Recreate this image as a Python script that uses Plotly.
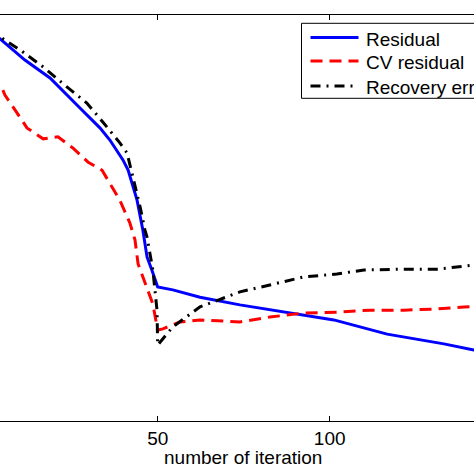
import plotly.graph_objects as go

# Residual (solid blue)
res_x = [1, 4.2, 11.4, 18.7, 27.4, 33.2, 36.1, 39.9, 41.4, 44.0, 45.7, 46.9, 48.3, 50,
         54.4, 62.3, 73.9, 101.2, 116.7, 133.2, 141.9, 150]
res_y = [96.0, 94.1, 88.9, 84.5, 77.1, 72.2, 69.2, 64.3, 61.8, 54.4, 47.0, 40.4, 37.2, 33.0,
         32.3, 30.5, 28.6, 24.9, 21.4, 19.0, 17.5, 16.0]

# CV residual (dashed red)
cv_x = [5, 5.6, 9.1, 12.0, 16.7, 21.0, 25.4, 29.7, 33.8, 36.1, 39.0, 41.9, 43.4, 44.3, 46.9,
        48.6, 50, 51.5, 56.5, 62.3, 73.9, 82.6, 92.5, 102.1, 111.7, 121.6, 131.2, 139.0, 150]
cv_y = [81.5, 80.3, 75.9, 72.2, 69.5, 70.0, 67.2, 63.8, 61.8, 58.6, 54.4, 48.8, 44.6, 38.7, 33.0,
        28.8, 22.4, 22.7, 24.4, 24.9, 24.4, 25.6, 26.6, 26.8, 27.3, 27.3, 27.6, 28.1, 28.5]

# Recovery error (dash-dot black)
rec_x = [1, 4.2, 10.0, 16.7, 23.6, 29.4, 34.1, 39.0, 41.1, 42.8, 44.9, 46.3, 46.9, 48.6, 49.8, 50,
         54.4, 62.3, 73.9, 82.6, 92.5, 102.1, 110.0, 121.6, 131.2, 141.9, 150]
rec_y = [96.5, 94.6, 91.4, 87.2, 82.3, 78.3, 73.6, 68.5, 66.0, 60.1, 52.7, 47.0, 45.3, 37.2, 27.3, 18.7,
         23.2, 28.1, 31.8, 33.5, 35.5, 36.2, 37.2, 37.4, 37.4, 38.4, 38.6]

series_names = ["Residual", "CV residual", "Recovery error"]
series_colors = ["#0000ff", "#ff0000", "#000000"]
series_dash = ["solid", "12px,7px", "10px,6px,2px,6px"]

x_ticks = [50, 100]
x_tick_labels = ["50", "100"]
x_title = "number of iteration"

FONT = "Liberation Sans, Arial, Helvetica, sans-serif"
W, H = 474, 474
T, B = 15, 53
PH = H - T - B


def px_x(p):
    return p / W


def px_y(p):
    return (H - B - p) / PH


fig = go.Figure()
for xs, ys, name, col, dsh in zip([res_x, cv_x, rec_x], [res_y, cv_y, rec_y],
                                  series_names, series_colors, series_dash):
    fig.add_trace(go.Scatter(x=xs, y=ys, mode="lines", name=name,
                             line=dict(color=col, width=3, dash=dsh)))

# Legend drawn manually so that it can run off the right edge like the original
shapes = [dict(type="rect", xref="paper", yref="paper",
               x0=px_x(301.5), x1=px_x(520), y0=px_y(98.3), y1=px_y(23.3),
               line=dict(color="black", width=1), fillcolor="white", layer="above")]
annotations = []
line_rows = [37.5, 61.0, 86.0]
text_rows = [39.5, 63.0, 87.0]
for name, col, dsh, ly, ty in zip(series_names, series_colors, series_dash, line_rows, text_rows):
    shapes.append(dict(type="line", xref="paper", yref="paper",
                       x0=px_x(310.5), x1=px_x(358.5), y0=px_y(ly), y1=px_y(ly),
                       line=dict(color=col, width=3, dash=dsh), layer="above"))
    annotations.append(dict(text=name, xref="paper", yref="paper", x=px_x(364),
                            y=px_y(ty), xanchor="left", yanchor="middle",
                            showarrow=False, font=dict(size=19)))

annotations.append(dict(text=x_title, xref="paper", yref="paper", x=px_x(243),
                        y=px_y(457), xanchor="center", yanchor="middle",
                        showarrow=False, font=dict(size=19)))

fig.update_layout(
    width=W, height=H,
    margin=dict(l=0, r=0, t=T, b=B, autoexpand=False),
    paper_bgcolor="white", plot_bgcolor="white",
    font=dict(family=FONT, size=19, color="black"),
    showlegend=False,
    xaxis=dict(range=[4.16, 141.95], tickvals=x_ticks, ticktext=x_tick_labels,
               ticks="inside", ticklen=5, tickcolor="black", showline=True,
               linecolor="black", linewidth=1, mirror="ticks", showgrid=False,
               zeroline=False, tickfont=dict(size=19)),
    yaxis=dict(range=[0, 100], showticklabels=False, ticks="", showline=False,
               showgrid=False, zeroline=False),
    shapes=shapes,
    annotations=annotations,
)

fig.write_html("out.html")
